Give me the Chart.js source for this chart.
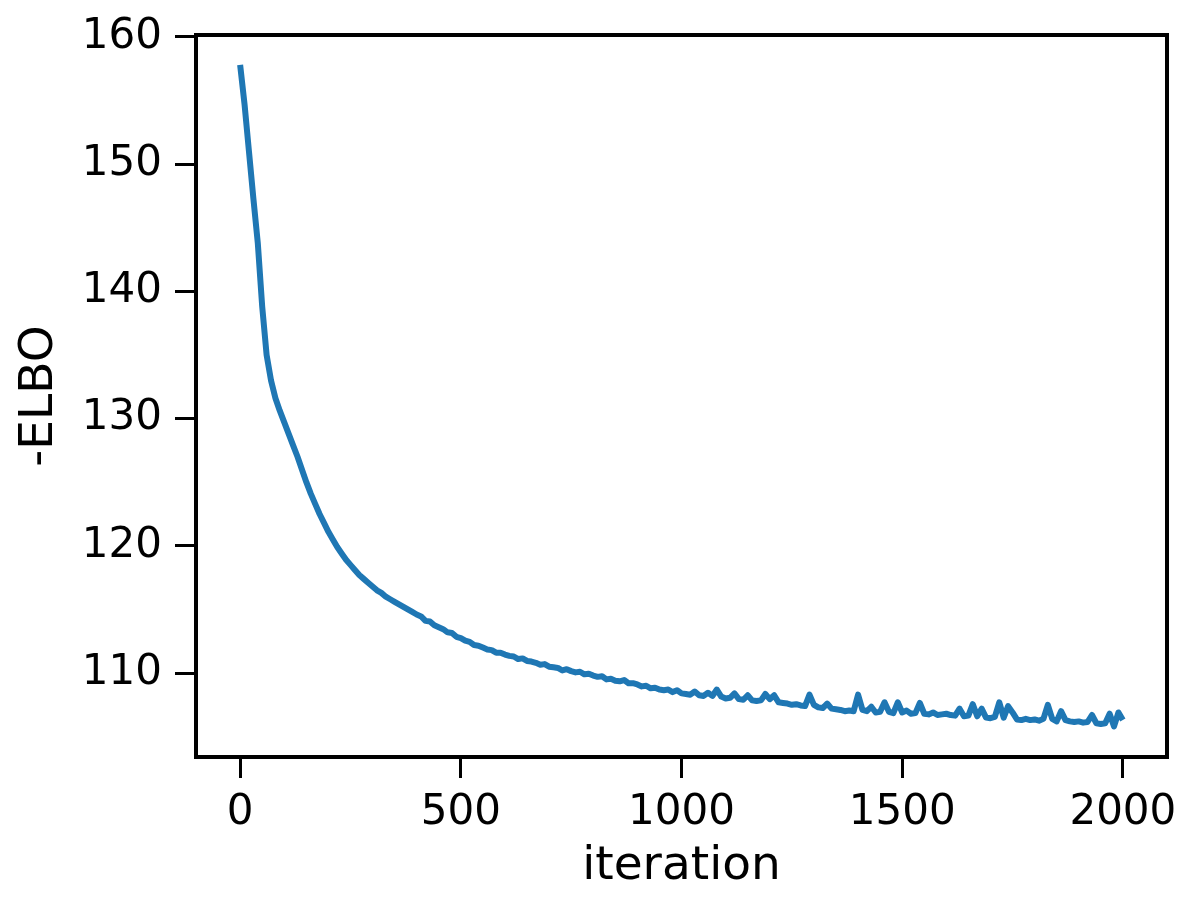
<!DOCTYPE html>
<html>
<head>
<meta charset="utf-8">
<title>-ELBO vs iteration</title>
<script src="https://cdn.jsdelivr.net/npm/chart.js@4.4.1/dist/chart.umd.min.js"></script>
<style>
    html, body { margin: 0; padding: 0; background: #fff; }
    #wrap { width: 1200px; height: 913px; }
</style>
</head>
<body>
<div id="wrap"><canvas id="myChart" width="1200" height="913"></canvas></div>
<script>
var step = 10;
var elbo = [
    157.8, 154.7, 151.0, 147.3, 143.8, 138.8, 135.0, 133.0, 131.6, 130.6,
    129.7, 128.8, 127.9, 127.0, 126.0, 125.0, 124.1, 123.3, 122.5, 121.8,
    121.1, 120.5, 119.9, 119.4, 118.9, 118.5, 118.1, 117.7, 117.4, 117.1,
    116.8, 116.5, 116.3, 116.0, 115.8, 115.6, 115.4, 115.2, 115.0, 114.8,
    114.6, 114.45, 114.1, 114.05, 113.75, 113.6, 113.45, 113.2, 113.15, 112.85,
    112.75, 112.55, 112.45, 112.2, 112.15, 112.0, 111.85, 111.8, 111.6, 111.6,
    111.45, 111.35, 111.3, 111.1, 111.15, 110.95, 110.9, 110.8, 110.65, 110.7,
    110.5, 110.45, 110.4, 110.2, 110.3, 110.15, 110.05, 110.1, 109.9, 109.95,
    109.8, 109.7, 109.75, 109.5, 109.55, 109.4, 109.35, 109.45, 109.2, 109.2,
    109.1, 108.95, 109.0, 108.8, 108.85, 108.7, 108.65, 108.7, 108.5, 108.65,
    108.4, 108.35, 108.3, 108.55, 108.25, 108.2, 108.45, 108.2, 108.7, 108.15,
    108.0, 108.05, 108.4, 107.95, 107.9, 108.25, 107.85, 107.8, 107.85, 108.35,
    107.95, 108.25, 107.7, 107.65, 107.6, 107.5, 107.55, 107.45, 107.4, 108.3,
    107.5, 107.3, 107.25, 107.6, 107.2, 107.15, 107.1, 107.0, 107.05, 107.0,
    108.3, 107.1, 107.0, 107.35, 106.9, 106.95, 107.7, 106.95, 106.85, 107.7,
    106.9, 107.05, 106.8, 106.85, 107.65, 106.8, 106.75, 106.9, 106.7, 106.75,
    106.8, 106.7, 106.65, 107.2, 106.6, 106.65, 107.55, 106.6, 107.2, 106.5,
    106.45, 106.55, 107.7, 106.5, 107.4, 106.9, 106.35, 106.3, 106.4, 106.3,
    106.35, 106.25, 106.4, 107.5, 106.4, 106.2, 107.0, 106.3, 106.2, 106.15,
    106.2, 106.1, 106.15, 106.7, 106.05, 106.0, 106.05, 106.8, 105.8, 106.9,
    106.3
];
var iterations = elbo.map(function(v, i){ return i * step; });

var xTicks = [0, 500, 1000, 1500, 2000];
var yTicks = [110, 120, 130, 140, 150, 160];
var xRange = [-100, 2100];
var yRange = [103.4, 160.15];

var font = "'DejaVu Sans', sans-serif";

// box round the plot, like matplotlib spines
var frame = {
    id: "frame",
    afterDraw: function(chart){
        var a = chart.chartArea, ctx = chart.ctx;
        ctx.save();
        ctx.strokeStyle = "#000";
        ctx.lineWidth = 4;
        ctx.strokeRect(a.left, a.top, a.right - a.left, a.bottom - a.top);
        ctx.restore();
    }
};

var ctx = document.getElementById("myChart").getContext("2d");
var chart = new Chart(ctx, {
    type: "line",
    data: {
        datasets: [{
            data: iterations.map(function(x, i){ return {x: x, y: elbo[i]}; }),
            borderColor: "#1f77b4",
            borderWidth: 6,
            pointRadius: 0,
            tension: 0,
            fill: false,
            borderJoinStyle: "round",
            borderCapStyle: "butt"
        }]
    },
    options: {
        responsive: false,
        animation: false,
        layout: {padding: {top: 35, right: 33, left: 0, bottom: 0}},
        plugins: {legend: {display: false}, tooltip: {enabled: false}},
        scales: {
            x: {
                type: "linear",
                min: xRange[0],
                max: xRange[1],
                afterBuildTicks: function(s){ s.ticks = xTicks.map(function(v){ return {value: v}; }); },
                afterFit: function(s){ s.height = 156; s.paddingLeft = 0; s.paddingRight = 0; },
                ticks: {
                    color: "#000",
                    font: {family: font, size: 42},
                    padding: 10,
                    maxRotation: 0,
                    callback: function(v){ return String(v); }
                },
                grid: {drawOnChartArea: false, drawTicks: true, tickLength: 21, tickWidth: 3, tickColor: "#000"},
                border: {display: false},
                title: {display: true, text: "iteration", color: "#000", font: {family: font, size: 47}, padding: {top: 0, bottom: 18}}
            },
            y: {
                type: "linear",
                min: yRange[0],
                max: yRange[1],
                afterBuildTicks: function(s){ s.ticks = yTicks.map(function(v){ return {value: v}; }); },
                afterFit: function(s){ s.width = 196; s.paddingTop = 0; s.paddingBottom = 0; },
                ticks: {
                    color: "#000",
                    font: {family: font, size: 42},
                    padding: 13,
                    callback: function(v){ return String(v); }
                },
                grid: {drawOnChartArea: false, drawTicks: true, tickLength: 21, tickWidth: 3, tickColor: "#000"},
                border: {display: false},
                title: {display: true, text: "-ELBO", color: "#000", font: {family: font, size: 47}, padding: {top: 12, bottom: 0}}
            }
        }
    },
    plugins: [frame]
});
</script>
</body>
</html>
